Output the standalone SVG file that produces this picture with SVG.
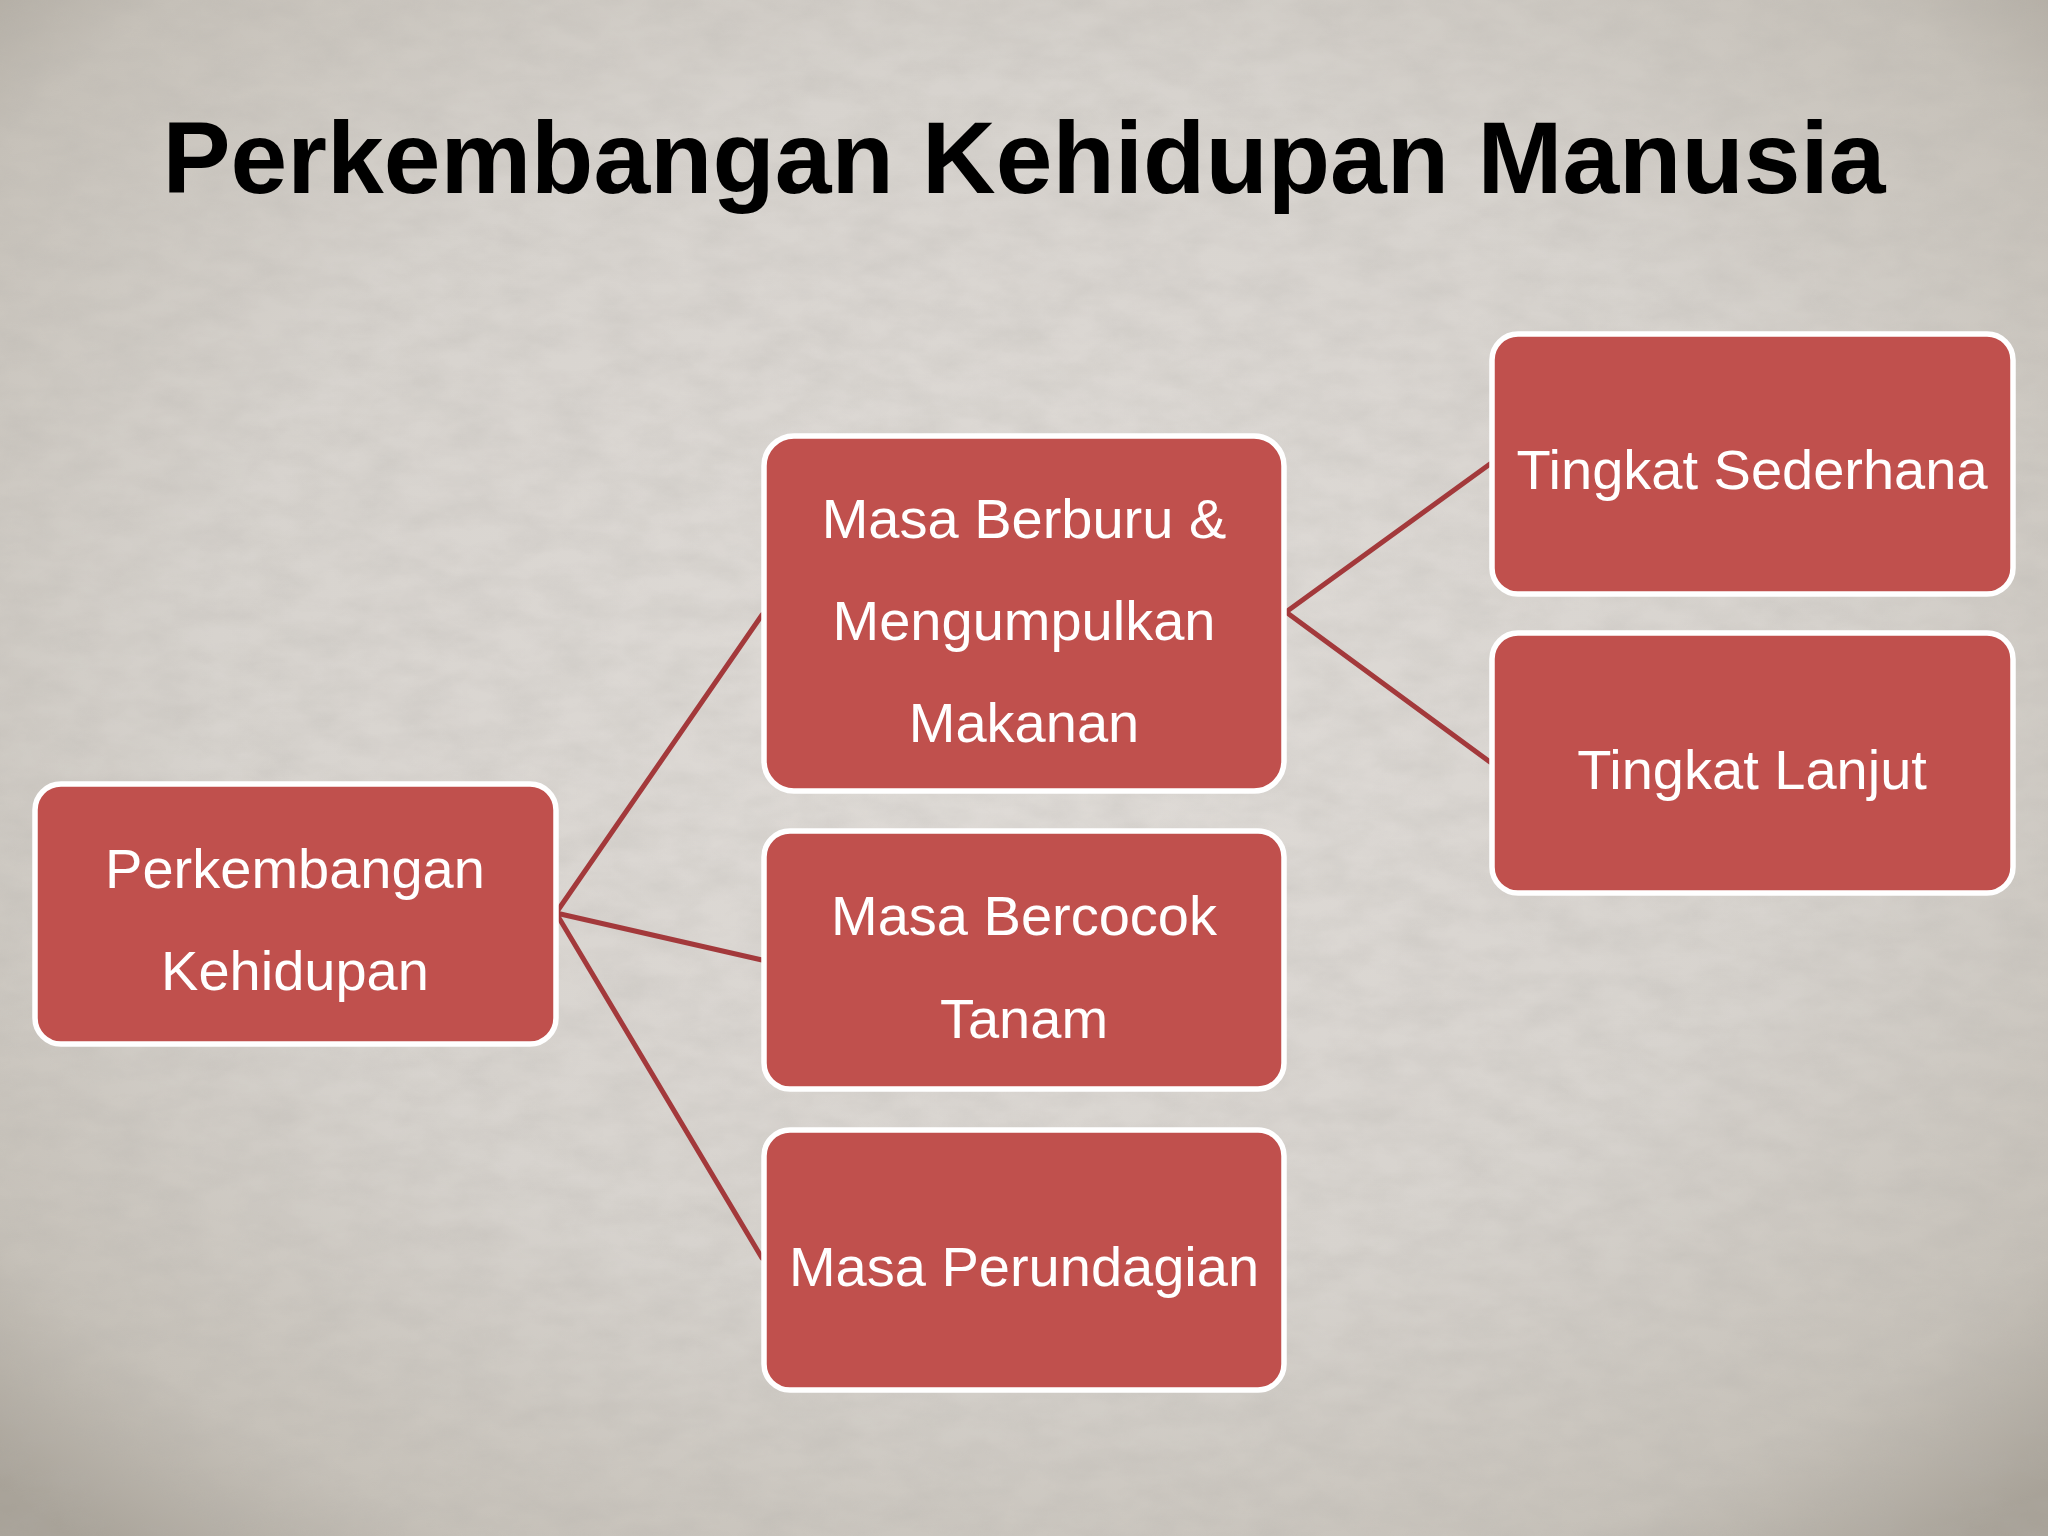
<svg xmlns="http://www.w3.org/2000/svg" width="2048" height="1536" viewBox="0 0 2048 1536">
<defs>
<radialGradient id="bg" cx="50%" cy="45%" r="72%">
<stop offset="0" stop-color="#E0DCD8"/>
<stop offset="0.55" stop-color="#D7D3CE"/>
<stop offset="0.85" stop-color="#C6C1B9"/>
<stop offset="1" stop-color="#A8A298"/>
</radialGradient>
<filter id="noise" x="0" y="0" width="100%" height="100%">
<feTurbulence type="fractalNoise" baseFrequency="0.02 0.04" numOctaves="4" seed="3"/>
<feColorMatrix type="matrix" values="0 0 0 0 0.45  0 0 0 0 0.43  0 0 0 0 0.40  0 0 0 0.9 -0.25"/>
</filter>
<style>
.node rect{fill:#C0504D;stroke:#FFFFFF;stroke-width:5.5}
.node text{fill:#FFFFFF;font-family:"Liberation Sans",Arial,sans-serif;font-size:56px;text-anchor:middle}
.conn line{stroke:#A3393B;stroke-width:5;stroke-linecap:round}
.title{fill:#000000;font-family:"Liberation Sans",Arial,sans-serif;font-size:102px;font-weight:bold;text-anchor:middle}
</style>
</defs>
<rect x="0" y="0" width="2048" height="1536" fill="url(#bg)"/>
<rect x="0" y="0" width="2048" height="1536" filter="url(#noise)" opacity="0.4"/>
<text class="title" x="1024" y="193">Perkembangan Kehidupan Manusia</text>
<g id="connectors" class="conn">
<line x1="556" y1="913" x2="762" y2="615"/>
<line x1="556" y1="913" x2="762" y2="960"/>
<line x1="556" y1="913" x2="762" y2="1258"/>
<line x1="1286" y1="612" x2="1490" y2="464"/>
<line x1="1286" y1="612" x2="1490" y2="762"/>
</g>
<g id="node-perkembangan" class="node">
<rect x="35" y="784" width="521" height="260" rx="26"/>
<text x="295" y="888">Perkembangan</text>
<text x="295" y="990">Kehidupan</text>
</g>
<g id="node-berburu" class="node">
<rect x="764" y="436" width="520" height="355" rx="30"/>
<text x="1024" y="538">Masa Berburu &amp;</text>
<text x="1024" y="640">Mengumpulkan</text>
<text x="1024" y="742">Makanan</text>
</g>
<g id="node-bercocok" class="node">
<rect x="764" y="831" width="520" height="258" rx="26"/>
<text x="1024" y="935">Masa Bercocok</text>
<text x="1024" y="1038">Tanam</text>
</g>
<g id="node-perundagian" class="node">
<rect x="764" y="1130" width="520" height="260" rx="26"/>
<text x="1024" y="1286">Masa Perundagian</text>
</g>
<g id="node-sederhana" class="node">
<rect x="1492" y="334" width="521" height="260" rx="26"/>
<text x="1752" y="489">Tingkat Sederhana</text>
</g>
<g id="node-lanjut" class="node">
<rect x="1492" y="633" width="521" height="260" rx="26"/>
<text x="1752" y="789">Tingkat Lanjut</text>
</g>
</svg>
